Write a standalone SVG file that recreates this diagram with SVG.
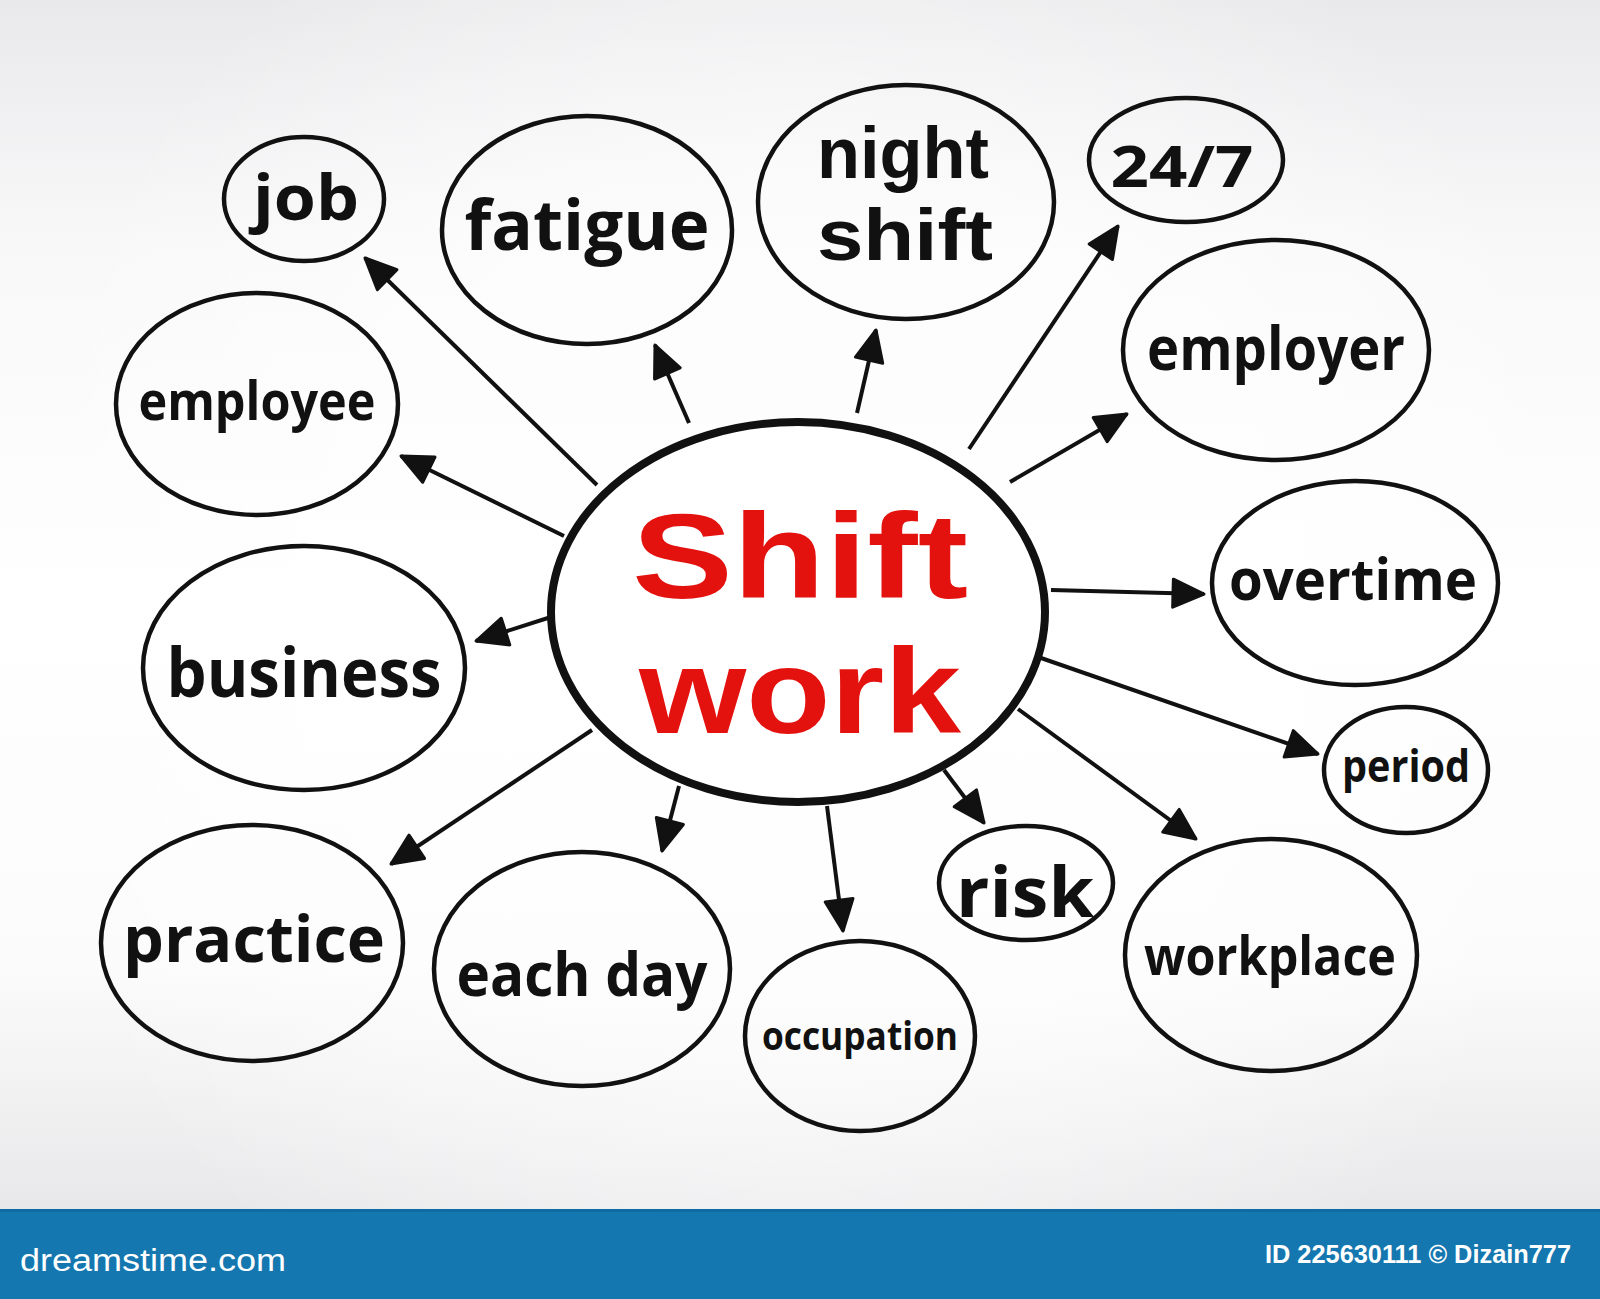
<svg xmlns="http://www.w3.org/2000/svg" width="1600" height="1299" viewBox="0 0 1600 1299">
<defs>
<linearGradient id="bg" x1="0" y1="0" x2="0" y2="1209" gradientUnits="userSpaceOnUse">
<stop offset="0" stop-color="#e9e9eb"/>
<stop offset="0.2" stop-color="#f8f8f9"/>
<stop offset="0.5" stop-color="#ffffff"/>
<stop offset="0.8" stop-color="#fbfbfb"/>
<stop offset="1" stop-color="#e8e8ea"/>
</linearGradient>
<radialGradient id="glow" cx="800" cy="620" r="820" gradientUnits="userSpaceOnUse">
<stop offset="0.55" stop-color="#ffffff" stop-opacity="0.6"/>
<stop offset="1" stop-color="#ffffff" stop-opacity="0"/>
</radialGradient>
<marker id="ah" markerUnits="userSpaceOnUse" markerWidth="38" markerHeight="34" refX="34" refY="17" orient="auto" viewBox="0 0 38 34">
<path d="M3,3 L34,17 L3,31 Z" fill="#111" stroke="#111" stroke-width="3" stroke-linejoin="round"/>
</marker>
<style>
.n{fill:none;stroke:#111;stroke-width:4.5}
.c{fill:#fff;stroke:#111;stroke-width:8}
.t{font-family:"Open Sans","DejaVu Sans",sans-serif;font-weight:700;fill:#111;text-anchor:middle}
.t2{font-family:"Liberation Sans","DejaVu Sans",sans-serif;font-weight:700;fill:#111;text-anchor:middle}
.r{font-family:"Liberation Sans","DejaVu Sans",sans-serif;font-weight:700;fill:#e3120f;text-anchor:middle}
.a{stroke:#111;stroke-width:4;fill:none;marker-end:url(#ah)}
.w{font-family:"Liberation Sans","DejaVu Sans",sans-serif;fill:#fff}
</style>
</defs>
<rect x="0" y="0" width="1600" height="1209" fill="url(#bg)"/>
<rect x="0" y="0" width="1600" height="1209" fill="url(#glow)"/>
<g id="connectors">
<line class="a" x1="597" y1="485" x2="365" y2="258"/>
<line class="a" x1="689" y1="423" x2="655" y2="345"/>
<line class="a" x1="857" y1="413" x2="876" y2="330"/>
<line class="a" x1="969" y1="449" x2="1118" y2="226"/>
<line class="a" x1="1010" y1="482" x2="1127" y2="414"/>
<line class="a" x1="564" y1="536" x2="401" y2="456"/>
<line class="a" x1="1051" y1="590" x2="1204" y2="594"/>
<line class="a" x1="551" y1="617" x2="476" y2="641"/>
<line class="a" x1="1041" y1="658" x2="1318" y2="754"/>
<line class="a" x1="592" y1="730" x2="391" y2="864"/>
<line class="a" x1="679" y1="786" x2="662" y2="851"/>
<line class="a" x1="827" y1="806" x2="843" y2="931"/>
<line class="a" x1="944" y1="770" x2="984" y2="823"/>
<line class="a" x1="1018" y1="709" x2="1196" y2="839"/>
</g>
<g id="center">
<ellipse class="c" cx="798" cy="612" rx="247" ry="190"/>
<text class="r" x="800" y="598" font-size="120" textLength="336" lengthAdjust="spacingAndGlyphs">Shift</text>
<text class="r" x="800" y="733" font-size="120" textLength="322" lengthAdjust="spacingAndGlyphs">work</text>
</g>
<g id="job"><ellipse class="n" cx="304" cy="199" rx="80" ry="62"/><text class="t" x="306" y="220" font-size="62" textLength="106" lengthAdjust="spacingAndGlyphs">job</text></g>
<g id="fatigue"><ellipse class="n" cx="587" cy="230" rx="145" ry="114"/><text class="t" x="587" y="250" font-size="70" textLength="245" lengthAdjust="spacingAndGlyphs">fatigue</text></g>
<g id="night-shift"><ellipse class="n" cx="906" cy="202" rx="148" ry="117"/><text class="t2" x="903" y="178" font-size="72" textLength="172" lengthAdjust="spacingAndGlyphs">night</text><text class="t2" x="905" y="260" font-size="72" textLength="176" lengthAdjust="spacingAndGlyphs">shift</text></g>
<g id="n247"><ellipse class="n" cx="1186" cy="160" rx="97" ry="62"/><text class="t" x="1182" y="187" font-size="58" textLength="143" lengthAdjust="spacingAndGlyphs">24/7</text></g>
<g id="employer"><ellipse class="n" cx="1276" cy="350" rx="153" ry="110"/><text class="t" x="1276" y="370" font-size="60" textLength="258" lengthAdjust="spacingAndGlyphs">employer</text></g>
<g id="employee"><ellipse class="n" cx="257" cy="404" rx="141" ry="111"/><text class="t" x="257" y="420" font-size="54" textLength="237" lengthAdjust="spacingAndGlyphs">employee</text></g>
<g id="overtime"><ellipse class="n" cx="1355" cy="583" rx="143" ry="102"/><text class="t" x="1353" y="600" font-size="58" textLength="248" lengthAdjust="spacingAndGlyphs">overtime</text></g>
<g id="business"><ellipse class="n" cx="304" cy="668" rx="161" ry="122"/><text class="t" x="304" y="697" font-size="68" textLength="275" lengthAdjust="spacingAndGlyphs">business</text></g>
<g id="period"><ellipse class="n" cx="1406" cy="770" rx="82" ry="63"/><text class="t" x="1406" y="782" font-size="44" textLength="128" lengthAdjust="spacingAndGlyphs">period</text></g>
<g id="practice"><ellipse class="n" cx="252" cy="943" rx="151" ry="118"/><text class="t" x="254" y="962" font-size="64" textLength="262" lengthAdjust="spacingAndGlyphs">practice</text></g>
<g id="each-day"><ellipse class="n" cx="582" cy="969" rx="148" ry="117"/><text class="t" x="582" y="996" font-size="60" textLength="251" lengthAdjust="spacingAndGlyphs">each day</text></g>
<g id="occupation"><ellipse class="n" cx="860" cy="1036" rx="115" ry="95"/><text class="t" x="860" y="1050" font-size="40" textLength="196" lengthAdjust="spacingAndGlyphs">occupation</text></g>
<g id="risk"><ellipse class="n" cx="1026" cy="883" rx="87" ry="57"/><text class="t" x="1025" y="917" font-size="70" textLength="138" lengthAdjust="spacingAndGlyphs">risk</text></g>
<g id="workplace"><ellipse class="n" cx="1271" cy="955" rx="146" ry="116"/><text class="t" x="1270" y="975" font-size="54" textLength="252" lengthAdjust="spacingAndGlyphs">workplace</text></g>
<g id="footer">
<rect x="0" y="1209" width="1600" height="90" fill="#1577b0"/>
<rect x="0" y="1209" width="1600" height="3" fill="#0f6ca3"/>
<text class="w" x="20" y="1271" font-size="31" textLength="266" lengthAdjust="spacingAndGlyphs">dreamstime.com</text>
<text class="w" x="1571" y="1263" font-size="25" font-weight="700" text-anchor="end" textLength="306" lengthAdjust="spacingAndGlyphs">ID 225630111 © Dizain777</text>
</g>
</svg>
